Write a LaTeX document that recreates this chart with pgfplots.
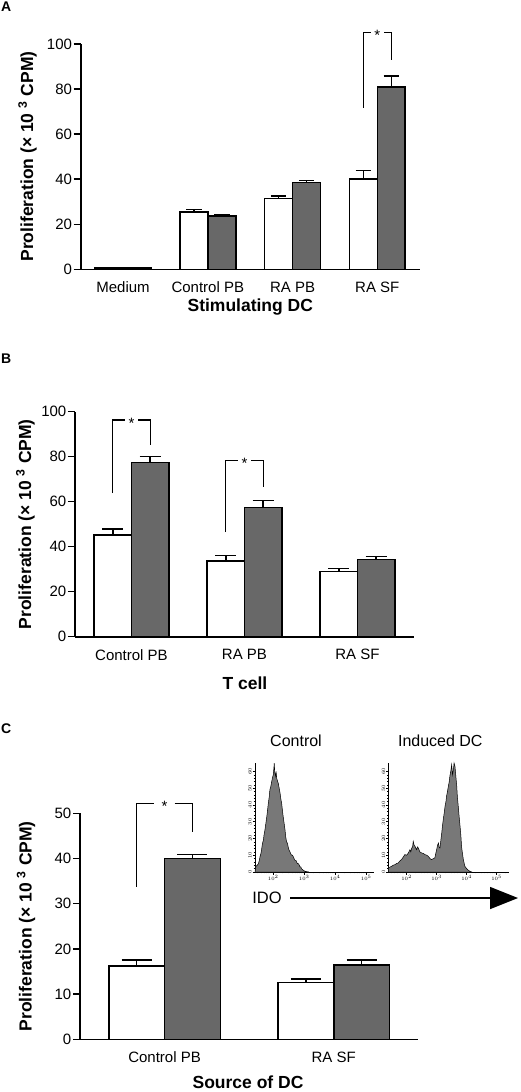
\documentclass[border=0pt]{standalone}
\usepackage{fontspec}
\setmainfont{Liberation Sans}
\usepackage{pgfplots}
\pgfplotsset{compat=1.18}
\usetikzlibrary{arrows.meta}

\definecolor{bargray}{RGB}{104,104,104}
\definecolor{histgray}{RGB}{120,120,120}

\pgfplotsset{
  barpanel/.style={
    scale only axis, width=339pt, height=225pt, anchor=south west,
    axis lines*=left, axis line style={line width=1.6pt, -},
    x axis line style={-}, y axis line style={-},
    ymin=0, xmin=-0.5, clip=false,
    tick align=outside, major tick length=7pt,
    ytick style={line width=1.4pt, black},
    xtick style={draw=none},
    /pgf/number format/assume math mode=true,
    every tick label/.append style={font=\fontsize{15}{18}\selectfont},
    xticklabel style={yshift=-2pt},
    yticklabel style={inner sep=1.5pt},
  },
  whitebar/.style={ybar, bar width=0.33, bar shift=0pt, fill=white, draw=black, line width=1.6pt,
    error bars/.cd, y dir=plus, y explicit,
    error bar style={line width=1.5pt, black},
    error mark options={rotate=90, line width=1.5pt, black, mark size=#1}},
  graybar/.style={ybar, bar width=0.33, bar shift=0pt, fill=bargray, draw=black, line width=1.6pt,
    error bars/.cd, y dir=plus, y explicit,
    error bar style={line width=1.5pt, black},
    error mark options={rotate=90, line width=1.5pt, black, mark size=#1}},
  bracket/.style={black, line width=1.2pt, mark=none},
  hist/.style={
    scale only axis, height=109pt, anchor=south west,
    axis lines*=left, axis line style={line width=0.8pt, -},
    x axis line style={-}, y axis line style={-},
    ymin=0, ymax=65, ytick={0,10,...,60}, minor y tick num=4,
    xtick={2,3,4,5}, xticklabels={$10^2$,$10^3$,$10^4$,$10^5$},
    minor xtick={1.477,1.602,1.699,1.778,1.845,1.903,1.954,
                 2.301,2.477,2.602,2.699,2.778,2.845,2.903,2.954,
                 3.301,3.477,3.602,3.699,3.778,3.845,3.903,3.954,
                 4.301,4.477,4.602,4.699,4.778,4.845,4.903,4.954,5.301},
    tick align=outside, major tick length=2.5pt, minor tick length=1.4pt,
    tick style={line width=0.5pt, black},
    every tick label/.append style={font=\fontsize{4}{4}\selectfont, inner sep=0.6pt},
    yticklabel style={rotate=90, anchor=south},
    clip=false,
  },
}

\newcommand{\ylab}{Proliferation (× 10 \textsuperscript{3} CPM)}

\begin{document}
\begin{tikzpicture}
\tikzset{lab/.style={font=\bfseries\fontsize{17.5}{20}\selectfont}}

% ---------------- A ----------------
\begin{axis}[barpanel, at={(80.7pt,-269.3pt)}, height=225.3pt, xmax=3.5, ymax=100,
  ytick={0,20,...,100},
  xtick={0,1,2,3}, xticklabels={Medium, Control PB, RA PB, RA SF}]
\addplot[whitebar=7.7pt] table[x=x, y=y, y error=e] {
x      y     e
-0.165 0.6   0.2
0.835  25.5  1.0
1.835  31.4  1.2
2.835  40.1  3.8
};
\addplot[graybar=7.7pt] table[x=x, y=y, y error=e] {
x      y     e
0.165  0.6   0.2
1.165  23.6  0.7
2.165  38.6  0.9
3.165  80.8  5.0
};
\addplot[bracket] coordinates {(2.835,71.8) (2.835,105.1) (2.92,105.1)};
\addplot[bracket] coordinates {(3.08,105.1) (3.165,105.1) (3.165,93)};
\node[font=\fontsize{15}{18}\selectfont, yshift=-3pt] at (axis cs:3,105.1) {*};
\end{axis}
\node[lab, rotate=90, anchor=base] at (33.2pt,-156.6pt) {\ylab};
\node[lab, anchor=base] at (250.3pt,-311.7pt) {Stimulating DC};
\node[font=\bfseries\fontsize{14}{16}\selectfont, anchor=base west, inner sep=0pt] at (1pt,-12pt) {A};

% ---------------- B ----------------
\begin{axis}[barpanel, at={(75pt,-636.7pt)}, xmax=2.5, ymax=100,
  ytick={0,20,...,100},
  xtick={0,1,2}, xticklabels={Control PB, RA PB, RA SF}]
\addplot[whitebar=10.5pt] table[x=x, y=y, y error=e] {
x      y     e
-0.165 45.1  2.8
0.835  33.7  2.3
1.835  29.0  1.4
};
\addplot[graybar=10.5pt] table[x=x, y=y, y error=e] {
x      y     e
0.165  77.4  2.7
1.165  57.5  3.1
2.165  34.3  1.4
};
\addplot[bracket] coordinates {(-0.165,63.8) (-0.165,96.3) (-0.06,96.3)};
\addplot[bracket] coordinates {(0.06,96.3) (0.165,96.3) (0.165,85.2)};
\node[font=\fontsize{15}{18}\selectfont, yshift=-3pt] at (axis cs:0,96.3) {*};
\addplot[bracket] coordinates {(0.835,46.5) (0.835,78.3) (0.94,78.3)};
\addplot[bracket] coordinates {(1.06,78.3) (1.165,78.3) (1.165,66.5)};
\node[font=\fontsize{15}{18}\selectfont, yshift=-3pt] at (axis cs:1,78.3) {*};
\end{axis}
\node[lab, rotate=90, anchor=base] at (31pt,-524.2pt) {\ylab};
\node[lab, anchor=base] at (245pt,-689.3pt) {T cell};
\node[font=\bfseries\fontsize{14}{16}\selectfont, anchor=base west, inner sep=0pt] at (1pt,-363.3pt) {B};

% ---------------- C ----------------
\begin{axis}[barpanel, at={(80pt,-1039.3pt)}, width=338.3pt, height=226pt, xmax=1.5, ymax=50,
  ytick={0,10,...,50},
  xtick={0,1}, xticklabels={Control PB, RA SF}]
\addplot[whitebar=15pt] table[x=x, y=y, y error=e] {
x      y     e
-0.165 16.2  1.4
0.835  12.6  0.7
};
\addplot[graybar=15pt] table[x=x, y=y, y error=e] {
x      y     e
0.165  40.0  0.9
1.165  16.4  1.1
};
\addplot[bracket] coordinates {(-0.165,33.8) (-0.165,52.1) (-0.06,52.1)};
\addplot[bracket] coordinates {(0.06,52.1) (0.165,52.1) (0.165,45.9)};
\node[font=\fontsize{15}{18}\selectfont, yshift=-3pt] at (axis cs:0,52.1) {*};
\end{axis}
\node[lab, rotate=90, anchor=base] at (31.7pt,-926.3pt) {\ylab};
\node[lab, anchor=base] at (248pt,-1088.5pt) {Source of DC};
\node[font=\bfseries\fontsize{14}{16}\selectfont, anchor=base west, inner sep=0pt] at (1pt,-733pt) {C};

% ---------------- C insets: IDO histograms ----------------
\begin{axis}[hist, at={(255pt,-872pt)}, width=119pt, xmin=1.41, xmax=5.25]
\addplot[fill=histgray, draw=black, line width=0.5pt] table {
1.41 0
1.44 3.4
1.48 4
1.52 5
1.55 7
1.57 9
1.60 11
1.62 13
1.65 17
1.68 19
1.70 22
1.73 25
1.76 29
1.79 33
1.81 36
1.84 41
1.87 45
1.89 49
1.92 51
1.95 54
1.97 56
2.00 58
2.02 62
2.03 65
2.05 59
2.08 57
2.09 60
2.11 56
2.14 54
2.16 53
2.19 50
2.22 47
2.24 44
2.27 41
2.30 36
2.32 33
2.35 29
2.38 25
2.40 21
2.43 18
2.46 17
2.48 15
2.51 13
2.54 12
2.56 11
2.59 10
2.62 10
2.65 9
2.67 8
2.70 7
2.73 7
2.75 6
2.78 5
2.81 5
2.84 4
2.86 3
2.89 3
2.91 2
2.94 1.5
2.97 1
3.02 0.5
3.08 0.2
3.15 0
} \closedcycle;
\end{axis}
\node[font=\fontsize{16}{18}\selectfont] at (296pt,-741pt) {Control};

\begin{axis}[hist, at={(388.3pt,-872pt)}, width=120.7pt, xmin=1.39, xmax=5.41]
\addplot[fill=histgray, draw=black, line width=0.5pt] table {
1.39 0
1.39 2.4
1.45 3
1.50 3.4
1.55 4
1.61 4.4
1.66 5
1.72 5.4
1.77 6.5
1.83 7.4
1.89 9
1.94 10.4
2.00 10
2.06 11.4
2.11 13.3
2.14 12
2.17 14.3
2.20 15
2.22 18.3
2.25 16
2.28 15.3
2.31 14
2.33 13.3
2.36 15
2.39 14.3
2.44 12
2.50 11.4
2.56 11
2.61 10.4
2.67 10
2.72 9.4
2.78 8
2.83 7.4
2.89 8
2.94 8.4
2.97 11
3.00 13.3
3.03 16
3.06 17.3
3.08 15
3.11 14.3
3.14 19
3.17 23.3
3.19 27
3.22 31.3
3.25 35
3.28 39.2
3.31 42
3.33 45.2
3.36 48
3.39 51.2
3.42 54
3.44 57.2
3.47 60
3.50 64
3.53 58
3.56 61.2
3.58 65
3.61 63.1
3.64 57
3.67 51.2
3.69 45
3.72 39.2
3.75 33
3.78 27.3
3.81 21
3.83 15.3
3.86 11
3.89 7.4
3.92 5
3.94 3.4
4.00 2
4.06 1
4.11 0.4
4.17 0
} \closedcycle;
\end{axis}
\node[font=\fontsize{16}{18}\selectfont] at (440.3pt,-741pt) {Induced DC};

\node[font=\fontsize{16.5}{18}\selectfont] at (267pt,-898pt) {IDO};
\draw[line width=1.5pt, -{Triangle[length=28pt, width=22pt]}] (290pt,-898pt) -- (518pt,-898pt);

\pgfresetboundingbox
\path[use as bounding box] (0pt,0pt) rectangle (520pt,-1092pt);
\end{tikzpicture}
\end{document}
